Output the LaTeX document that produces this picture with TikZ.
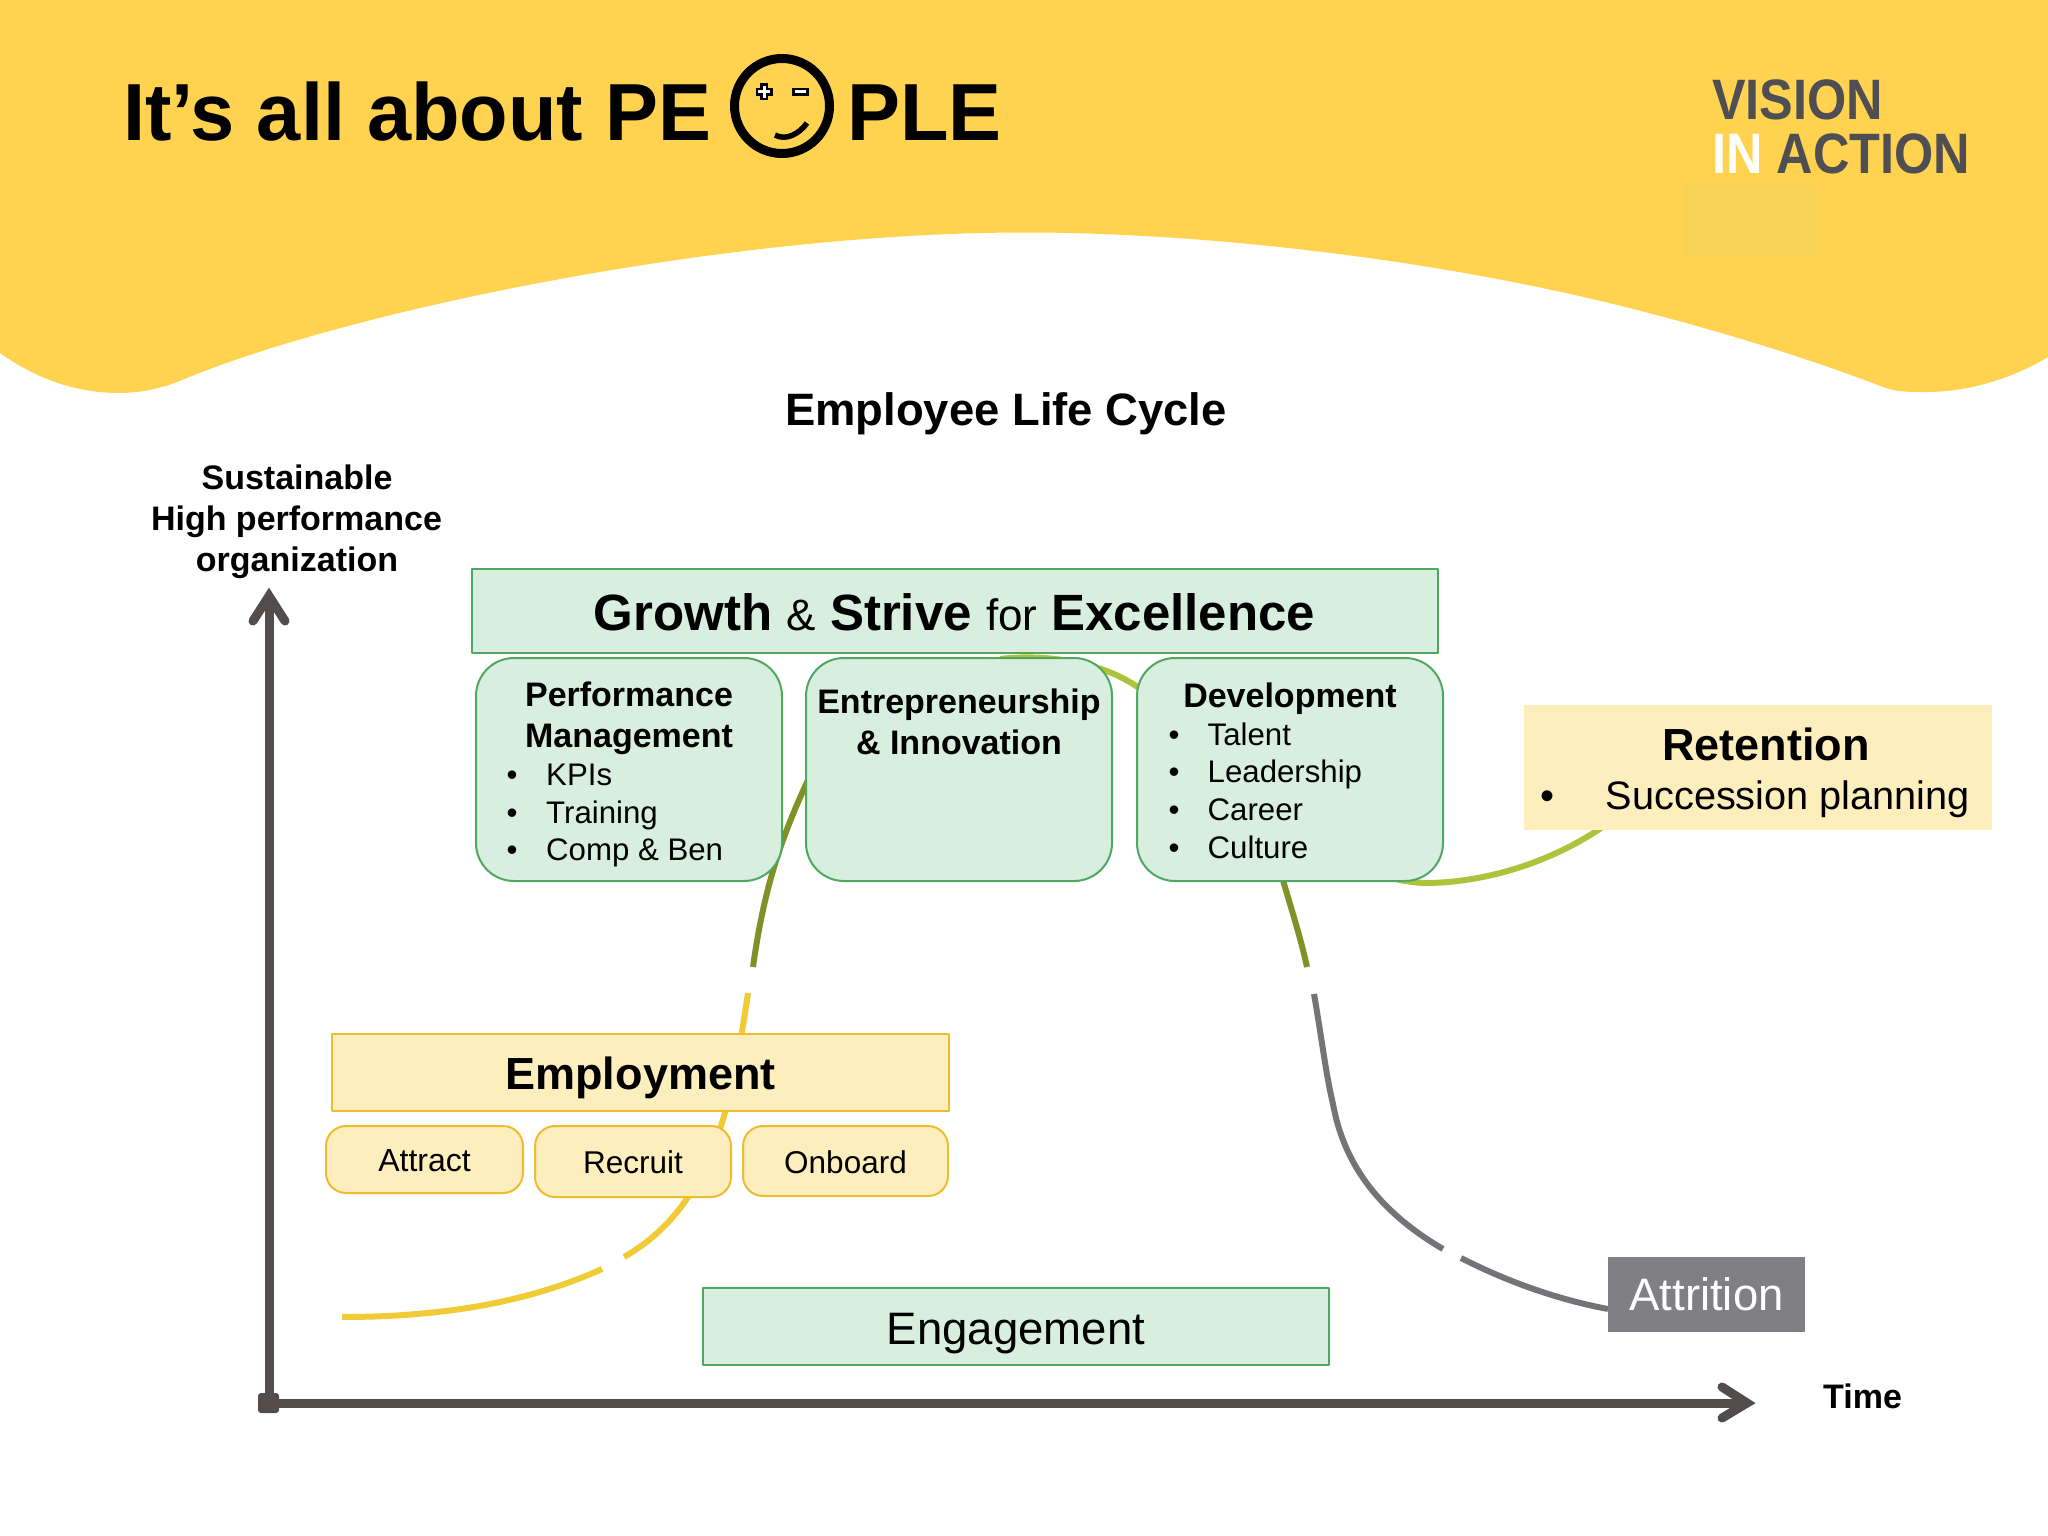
\documentclass[tikz,border=0pt]{standalone}
\usepackage{fontspec}
\setmainfont{Liberation Sans}
\newfontfamily\titlefont{Liberation Sans}[FakeStretch=0.98]
\newfontfamily\logofont{Liberation Sans}[FakeStretch=0.885]
\usetikzlibrary{positioning}
\definecolor{hdryellow}{HTML}{FFD34F}
\definecolor{logopatch}{HTML}{F8D257}
\definecolor{logodark}{HTML}{4F4E52}
\definecolor{axisgray}{HTML}{524C4C}
\definecolor{curveyellow}{HTML}{F0CB35}
\definecolor{curveolive}{HTML}{7F9127}
\definecolor{curvelime}{HTML}{AEC33C}
\definecolor{curvegray}{HTML}{747377}
\definecolor{greenfill}{HTML}{D8EEDE}
\definecolor{greenline}{HTML}{4EA85F}
\definecolor{sandfill}{HTML}{FDEEBE}
\definecolor{sandline}{HTML}{EFBC2F}
\definecolor{attrgray}{HTML}{807F83}
\tikzset{
  boxbase/.style={inner sep=0pt,outer sep=0pt,anchor=center},
  greenbar/.style={boxbase,draw=greenline,fill=greenfill,line width=2pt},
  greenpill/.style={greenbar,rounded corners=38pt},
  sandbar/.style={boxbase,draw=sandline,fill=sandfill,line width=2pt},
  sandpill/.style={sandbar,rounded corners=20pt},
  curve/.style={line width=6pt},
  axisline/.style={line width=9pt,color=axisgray},
  axistip/.style={line width=9pt,color=axisgray,line cap=round,line join=miter,miter limit=10},
  basetext/.style={inner sep=0pt,anchor=base},
  lefttext/.style={inner sep=0pt,anchor=base west,font=\fontsize{31.2}{33}\selectfont},
  headtext/.style={basetext,font=\fontsize{34}{34}\selectfont\bfseries},
  dot/.style={basetext,font=\fontsize{31.2}{33}\selectfont}
}
\begin{document}
\begin{tikzpicture}[x=1pt,y=-1pt,line join=round]
\useasboundingbox (0,0) rectangle (2048,1536);
\fill [hdryellow] (0,0) -- (0,353) .. controls (35,378) and (75,393) .. (119,393) .. controls (140,393) and (162,388.5) .. (182,380) .. controls (347,311) and (725,232.5) .. (1025,232.5) .. controls (1180,232.5) and (1400,253) .. (1605,302) .. controls (1700,325) and (1800,355) .. (1883,387) .. controls (1897,392.4) and (1912,392) .. (1927,392) .. controls (1965,392) and (2010,380) .. (2048,357) -- (2048,0) -- cycle;
\fill [logopatch] (1683,185) rectangle (1817,257);
\node [inner sep=0pt,anchor=base west,font=\titlefont\fontsize{81}{81}\selectfont\bfseries] (titleleft) at (123,141) {It’s all about PE};
\node [inner sep=0pt,anchor=base west,font=\titlefont\fontsize{81}{81}\selectfont\bfseries] (titleright) at (847,141) {PLE};
\draw [line width=9pt] (782,106) circle (47.5);
\draw [line width=8pt] (755.5,92) -- (772.5,92);
\draw [line width=8pt] (764,83.5) -- (764,100.5);
\draw [line width=3pt,white] (758,92) -- (770,92);
\draw [line width=3pt,white] (764,86) -- (764,98);
\draw [line width=8pt] (791.5,92) -- (808.5,92);
\draw [line width=3pt,white] (794.5,92) -- (805.5,92);
\draw [line width=5.5pt] (807,123) .. controls (799,134) and (786,141) .. (775,135);
\node [inner sep=0pt,anchor=base west,text=logodark,font=\logofont\fontsize{57}{57}\selectfont\bfseries] (logotop) at (1712,120) {VISION};
\node [inner sep=0pt,anchor=base west,text=logodark,font=\logofont\fontsize{57}{57}\selectfont\bfseries] (logobottom) at (1712,174) {\textcolor{white}{IN} ACTION};
\node [basetext,font=\fontsize{45.4}{45}\selectfont\bfseries] (lifecycle) at (1006,425) {Employee Life Cycle};
\node [headtext] (ylabela) at (297,489) {Sustainable};
\node [headtext] (ylabelb) at (296.5,530) {High performance};
\node [headtext] (ylabelc) at (297,571) {organization};
\node [headtext,anchor=base west] (xlabel) at (1823,1408) {Time};
\coordinate (origin) at (269,1403);
\coordinate (ytip) at (269,596);
\coordinate (xtip) at (1747,1403);
\draw [axisline] (origin) -- (ytip);
\draw [axisline] (origin) -- (xtip);
\fill [axisgray,rounded corners=3pt] (258,1393) rectangle (279,1413);
\draw [axistip] (253,621) -- (ytip) -- (285,621);
\draw [axistip] (1722,1387) -- (xtip) -- (1722,1418);
\coordinate (ya) at (342,1317);
\coordinate (yb) at (602,1269);
\coordinate (yc) at (624,1257);
\coordinate (yd) at (748,993);
\coordinate (oa) at (753,967);
\coordinate (ob) at (808,780);
\coordinate (da) at (1280,870);
\coordinate (db) at (1307,967);
\coordinate (ga) at (1314,994);
\coordinate (gb) at (1333,1104);
\coordinate (gc) at (1443,1249);
\coordinate (gd) at (1461,1258);
\coordinate (ge) at (1608,1309);
\draw [curve,curveyellow] (ya) .. controls (430,1317) and (520,1306) .. (yb);
\draw [curve,curveyellow] (yc) .. controls (715,1205) and (732,1100) .. (yd);
\draw [curve,curveolive] (oa) .. controls (765,880) and (785,830) .. (ob) -- (822,750);
\draw [curve,curvelime] (1000,659) .. controls (1040,654) and (1100,660) .. (1139,688) .. controls (1250,780) and (1330,880) .. (1425,883) .. controls (1480,883) and (1545,865) .. (1598,830) -- (1616,818);
\draw [curve,curveolive] (da) .. controls (1290,905) and (1300,935) .. (db);
\draw [curve,curvegray] (ga) .. controls (1322,1040) and (1326,1075) .. (gb) .. controls (1345,1170) and (1385,1215) .. (gc);
\draw [curve,curvegray] (gd) .. controls (1510,1283) and (1560,1300) .. (ge);
\node [greenbar,minimum width=966pt,text height=61pt,text depth=23pt,font=\fontsize{51}{50}\selectfont] (growth) at (954.6,611) {\textbf{Growth} {\fontsize{44}{44}\selectfont\&} \textbf{Strive} {\fontsize{44}{44}\selectfont for} \textbf{Excellence}};
\node [greenpill,minimum width=306pt,minimum height=223pt] (perf) at (629,769.5) {};
\node [greenpill,minimum width=306pt,minimum height=223pt] (entre) at (959,769.5) {};
\node [greenpill,minimum width=306pt,minimum height=223pt] (dev) at (1290,769.5) {};
\node [headtext] (perfa) at (629,706) {Performance};
\node [headtext] (perfb) at (629,747) {Management};
\node [dot] (dota) at (512,785) {•};
\node [dot] (dotb) at (512,823) {•};
\node [dot] (dotc) at (512,860) {•};
\node [lefttext] (kpis) at (546,785) {KPIs};
\node [lefttext] (training) at (546,823) {Training};
\node [lefttext] (compben) at (546,860) {Comp \& Ben};
\node [headtext] (entrea) at (959,713) {Entrepreneurship};
\node [headtext] (entreb) at (959,754) {\& Innovation};
\node [headtext] (devhead) at (1290,707) {Development};
\node [dot] (dotd) at (1174,745) {•};
\node [dot] (dote) at (1174,782) {•};
\node [dot] (dotf) at (1174,820) {•};
\node [dot] (dotg) at (1174,858) {•};
\node [lefttext] (talent) at (1207.5,745) {Talent};
\node [lefttext] (leadership) at (1207.5,782) {Leadership};
\node [lefttext] (career) at (1207.5,820) {Career};
\node [lefttext] (culture) at (1207.5,858) {Culture};
\node [fill=sandfill,boxbase,minimum width=468pt,minimum height=125pt] (retention) at (1758,767.5) {};
\node [basetext,font=\fontsize{45}{45}\selectfont\bfseries] (rethead) at (1766,760.5) {Retention};
\node [dot,font=\fontsize{40}{40}\selectfont] (doth) at (1547,809) {•};
\node [inner sep=0pt,anchor=base west,font=\fontsize{39.7}{40}\selectfont] (succession) at (1605.6,809) {Succession planning};
\node [sandbar,minimum width=617pt,text height=55pt,text depth=22pt,font=\fontsize{45}{45}\selectfont\bfseries] (employment) at (640.5,1072.5) {Employment};
\node [sandpill,minimum width=197pt,text height=45pt,text depth=22pt,font=\fontsize{32}{32}\selectfont] (attract) at (424.5,1159.5) {Attract};
\node [sandpill,minimum width=196pt,text height=47pt,text depth=24pt,font=\fontsize{31.5}{32}\selectfont] (recruit) at (633,1161.5) {Recruit};
\node [sandpill,minimum width=205pt,text height=47pt,text depth=23pt,font=\fontsize{31.5}{32}\selectfont] (onboard) at (845.5,1161) {Onboard};
\node [greenbar,minimum width=626pt,text height=56pt,text depth=21pt,font=\fontsize{45.5}{46}\selectfont] (engagement) at (1016,1326.5) {Engagement};
\node [boxbase,fill=attrgray,text=white,minimum width=197pt,text height=53pt,text depth=22pt,font=\fontsize{45.5}{46}\selectfont] (attrition) at (1706.5,1294.5) {Attrition};
\end{tikzpicture}
\end{document}
